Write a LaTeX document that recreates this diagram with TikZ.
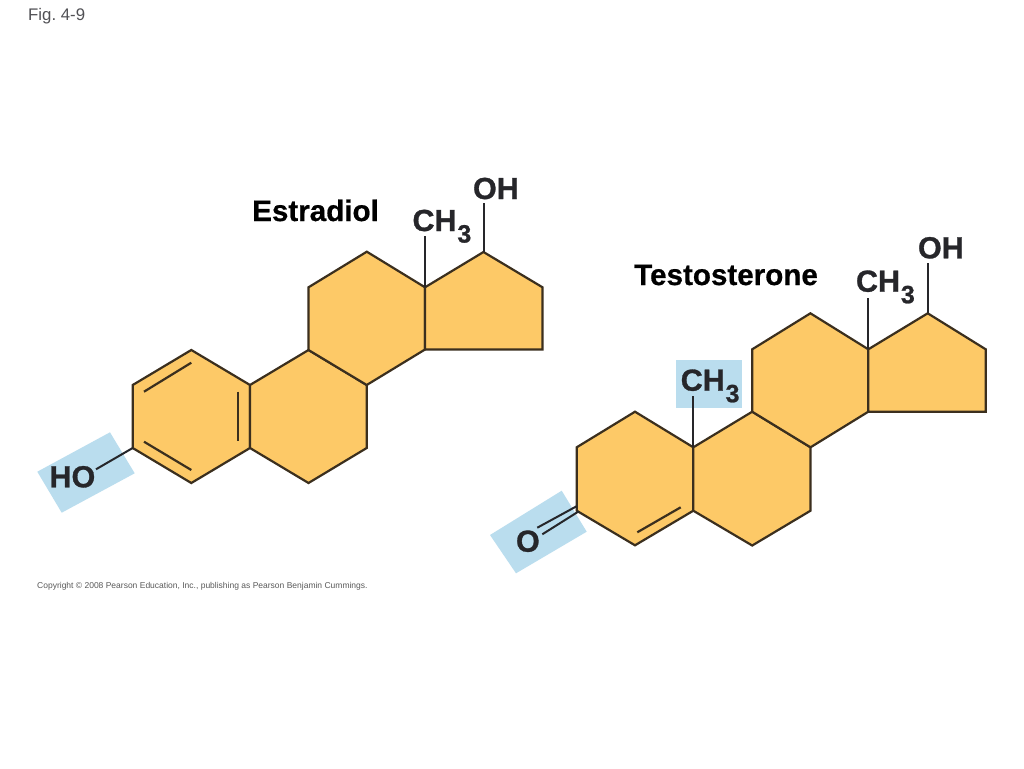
\documentclass[tikz,border=0pt]{standalone}
\usepackage{fontspec}
\setmainfont{Liberation Sans}
\newfontfamily\heavyfont[BoldFont={Liberation Sans Bold},BoldFeatures={FakeBold=0.6}]{Liberation Sans}
\newfontfamily\atomfont[BoldFont={Liberation Sans Bold},BoldFeatures={FakeBold=1}]{Liberation Sans}
\definecolor{ringfill}{HTML}{FDC967}
\definecolor{ringline}{HTML}{3B2F1E}
\definecolor{hilite}{HTML}{BADDEE}
\definecolor{atomink}{HTML}{26262A}
\definecolor{copyink}{HTML}{5A5A5A}
\newcommand{\subthree}{\kern0.8pt\raisebox{-11.5pt}{\fontsize{25}{26}\selectfont 3}}
\tikzset{
  ring/.style={draw=ringline,fill=ringfill,line width=2.2pt,line join=miter},
  bond/.style={draw=ringline,line width=2.2pt},
  thinbond/.style={draw=atomink,line width=2pt},
  highlight/.style={fill=hilite,draw=none},
  atomlabel/.style={font=\atomfont\bfseries\fontsize{30.5}{31}\selectfont,text=atomink,inner sep=0pt,outer sep=2pt,anchor=base west,text depth=0pt},
  title/.style={font=\heavyfont\bfseries\fontsize{29.6}{30}\selectfont,text=black,inner sep=0pt,anchor=base west,text depth=0pt},
  caption/.style={font=\fontsize{16.8}{17}\selectfont,text=atomink!80,inner sep=0pt,anchor=base west},
  copyright/.style={font=\fontsize{8.5}{10}\selectfont,text=copyink,inner sep=0pt,anchor=base west}
}
\begin{document}
\frenchspacing
\begin{tikzpicture}[x=1pt,y=-1pt]
\useasboundingbox[fill=white] (0,0) rectangle (1024,768);

% Estradiol vertices
\coordinate (a1) at (191.3,350);
\coordinate (a2) at (132.7,385);
\coordinate (a3) at (132.7,448);
\coordinate (a4) at (191.3,483);
\coordinate (a5) at (250,448);
\coordinate (a6) at (250,385);
\coordinate (b1) at (308.5,350);
\coordinate (b2) at (366.7,385);
\coordinate (b3) at (366.7,448);
\coordinate (b4) at (308.5,483);
\coordinate (c1) at (308.5,287.3);
\coordinate (c2) at (366.8,251.7);
\coordinate (c3) at (425,287.3);
\coordinate (c4) at (425,349.5);
\coordinate (d1) at (483.5,252);
\coordinate (d2) at (542.5,287.3);
\coordinate (d3) at (542.5,349.5);

% Testosterone vertices
\coordinate (p1) at (635,411.7);
\coordinate (p2) at (576.7,447.3);
\coordinate (p3) at (576.7,510.7);
\coordinate (p4) at (635,545.3);
\coordinate (p5) at (693.3,510.7);
\coordinate (p6) at (693.3,447.3);
\coordinate (q1) at (752.2,411.7);
\coordinate (q2) at (810.5,447.3);
\coordinate (q3) at (810.5,510.7);
\coordinate (q4) at (752.2,545.5);
\coordinate (r1) at (752.2,349.3);
\coordinate (r2) at (810.4,313.3);
\coordinate (r3) at (868.3,349.3);
\coordinate (r4) at (868.3,411.7);
\coordinate (s1) at (927.7,313.3);
\coordinate (s2) at (985.7,349.3);
\coordinate (s3) at (985.7,411.7);

% Highlights
\fill[highlight] (37.3,471.7) -- (110,432.3) -- (134.7,473.3) -- (61.7,512.7) -- cycle;
\fill[highlight] (490,535) -- (561.7,490.7) -- (586.7,531.7) -- (516,573.3) -- cycle;
\fill[highlight] (676,360) rectangle (742.3,408.3);

% Estradiol rings
\path[ring] (a1) -- (a2) -- (a3) -- (a4) -- (a5) -- (a6) -- cycle;
\path[ring] (a6) -- (b1) -- (b2) -- (b3) -- (b4) -- (a5) -- cycle;
\path[ring] (b1) -- (c1) -- (c2) -- (c3) -- (c4) -- (b2) -- cycle;
\path[ring] (c3) -- (d1) -- (d2) -- (d3) -- (c4) -- cycle;

% Testosterone rings
\path[ring] (p1) -- (p2) -- (p3) -- (p4) -- (p5) -- (p6) -- cycle;
\path[ring] (p6) -- (q1) -- (q2) -- (q3) -- (q4) -- (p5) -- cycle;
\path[ring] (q1) -- (r1) -- (r2) -- (r3) -- (r4) -- (q2) -- cycle;
\path[ring] (r3) -- (s1) -- (s2) -- (s3) -- (r4) -- cycle;

% Inner double-bond lines
\coordinate (ia1) at (144,391.7);   \coordinate (ia2) at (191.3,362.7);
\coordinate (ib1) at (144,441.7);   \coordinate (ib2) at (191.3,470);
\coordinate (ic1) at (238.3,391.7); \coordinate (ic2) at (238.3,441);
\coordinate (id1) at (637.3,532.3); \coordinate (id2) at (680.7,507.3);
\draw[bond] (ia1) -- (ia2);
\draw[bond] (ib1) -- (ib2);
\draw[bond] (ic1) -- (ic2);
\draw[bond] (id1) -- (id2);

% Labels
\node[caption] (fig) at (28,20.5) {Fig. 4-9};
\node[title] (estradiol) at (252,221) {Estradiol};
\node[title] (testosterone) at (634,285) {Testosterone};
\node[atomlabel] (eOH) at (471,199) {OH};
\node[atomlabel] (eCH) at (410.5,231) {CH\subthree};
\node[atomlabel] (tOH) at (916,258.3) {OH};
\node[atomlabel] (tCH) at (854,291.7) {CH\subthree};
\node[atomlabel] (bCH) at (678.7,390.7) {CH\subthree};
\node[atomlabel] (eHO) at (47.5,487.3) {HO};
\node[atomlabel] (tO) at (514,551.7) {O};
\node[copyright] (copy) at (37,588.5) {Copyright © 2008 Pearson Education, Inc., publishing as Pearson Benjamin Cummings.};

% Substituent bonds
\coordinate (hoEnd) at (96,469.3);
\coordinate (oA1) at (576.5,506.3); \coordinate (oA2) at (537.3,527.7);
\coordinate (oB1) at (578.5,511.5); \coordinate (oB2) at (542.3,534.3);
\draw[thinbond] (d1) -- ([yshift=-2pt]eOH.south -| d1);
\draw[thinbond] (c3) -- ([yshift=-3pt]eCH.south -| c3);
\draw[thinbond] (s1) -- ([yshift=-2.4pt]tOH.south -| s1);
\draw[thinbond] (r3) -- ([yshift=-4pt]tCH.south -| r3);
\draw[thinbond] (p6) -- ([yshift=-3.3pt]bCH.south -| p6);
\draw[thinbond] (a3) -- (hoEnd);
\draw[thinbond] (oA1) -- (oA2);
\draw[thinbond] (oB1) -- (oB2);
\end{tikzpicture}
\end{document}
